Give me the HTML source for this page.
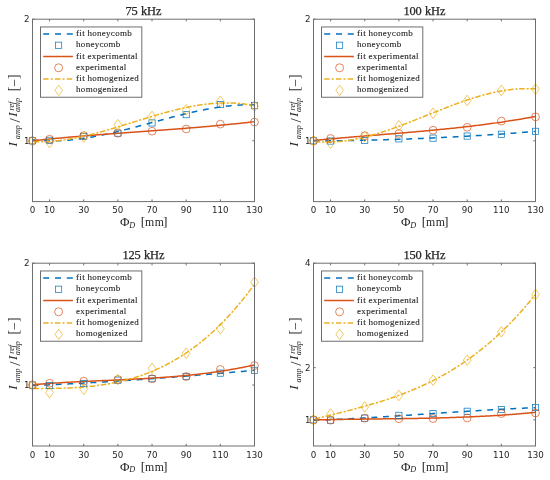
<!DOCTYPE html>
<html><head><meta charset="utf-8"><style>
html,body{margin:0;padding:0;background:#fff;width:550px;height:480px;overflow:hidden}
svg{display:block}
.tk{font-family:"DejaVu Sans",sans-serif;font-size:8.7px;fill:#262626}
.sf{font-family:"Liberation Serif",serif;fill:#262626;stroke:#262626;stroke-width:0.25px}
.sl{font-family:"Liberation Serif",serif;fill:#262626}
.lg{font-family:"Liberation Serif",serif;fill:#262626;font-size:9px;letter-spacing:0.28px;stroke:#262626;stroke-width:0.12px}
</style></head><body>
<svg width="550" height="480" viewBox="0 0 550 480">
<defs><clipPath id="c75"><rect x="32.5" y="19.2" width="222.0" height="182.4"/></clipPath></defs>
<polyline clip-path="url(#c75)" points="32.50,139.91 34.21,140.09 35.92,140.25 37.62,140.39 39.33,140.52 41.04,140.62 42.75,140.71 44.45,140.78 46.16,140.84 47.87,140.88 49.58,140.90 51.28,140.91 52.99,140.90 54.70,140.87 56.41,140.83 58.12,140.78 59.82,140.71 61.53,140.62 63.24,140.52 64.95,140.41 66.65,140.29 68.36,140.15 70.07,139.99 71.78,139.83 73.48,139.65 75.19,139.46 76.90,139.26 78.61,139.04 80.32,138.82 82.02,138.58 83.73,138.33 85.44,138.07 87.15,137.81 88.85,137.53 90.56,137.24 92.27,136.94 93.98,136.63 95.68,136.32 97.39,135.99 99.10,135.66 100.81,135.31 102.52,134.96 104.22,134.61 105.93,134.24 107.64,133.87 109.35,133.49 111.05,133.10 112.76,132.71 114.47,132.31 116.18,131.91 117.88,131.50 119.59,131.08 121.30,130.66 123.01,130.24 124.72,129.81 126.42,129.37 128.13,128.94 129.84,128.50 131.55,128.05 133.25,127.60 134.96,127.15 136.67,126.70 138.38,126.24 140.08,125.79 141.79,125.33 143.50,124.87 145.21,124.41 146.92,123.94 148.62,123.48 150.33,123.02 152.04,122.55 153.75,122.09 155.45,121.62 157.16,121.16 158.87,120.70 160.58,120.24 162.28,119.78 163.99,119.32 165.70,118.87 167.41,118.41 169.12,117.96 170.82,117.52 172.53,117.07 174.24,116.63 175.95,116.19 177.65,115.76 179.36,115.33 181.07,114.90 182.78,114.48 184.48,114.07 186.19,113.66 187.90,113.25 189.61,112.85 191.32,112.46 193.02,112.07 194.73,111.69 196.44,111.32 198.15,110.96 199.85,110.60 201.56,110.25 203.27,109.90 204.98,109.57 206.68,109.24 208.39,108.93 210.10,108.62 211.81,108.32 213.52,108.03 215.22,107.75 216.93,107.48 218.64,107.22 220.35,106.97 222.05,106.73 223.76,106.51 225.47,106.29 227.18,106.09 228.88,105.90 230.59,105.72 232.30,105.55 234.01,105.40 235.72,105.26 237.42,105.13 239.13,105.02 240.84,104.92 242.55,104.84 244.25,104.76 245.96,104.71 247.67,104.67 249.38,104.64 251.08,104.63 252.79,104.64 254.50,104.66" fill="none" stroke="#0072BD" stroke-width="1.5" stroke-dasharray="5.9 5.7"/>
<polyline clip-path="url(#c75)" points="32.50,140.79 34.21,140.61 35.92,140.42 37.62,140.24 39.33,140.06 41.04,139.88 42.75,139.70 44.45,139.53 46.16,139.36 47.87,139.19 49.58,139.02 51.28,138.85 52.99,138.69 54.70,138.52 56.41,138.36 58.12,138.20 59.82,138.04 61.53,137.88 63.24,137.73 64.95,137.57 66.65,137.42 68.36,137.27 70.07,137.12 71.78,136.97 73.48,136.82 75.19,136.67 76.90,136.53 78.61,136.38 80.32,136.24 82.02,136.10 83.73,135.96 85.44,135.82 87.15,135.68 88.85,135.54 90.56,135.41 92.27,135.27 93.98,135.14 95.68,135.00 97.39,134.87 99.10,134.74 100.81,134.60 102.52,134.47 104.22,134.34 105.93,134.21 107.64,134.08 109.35,133.96 111.05,133.83 112.76,133.70 114.47,133.57 116.18,133.45 117.88,133.32 119.59,133.20 121.30,133.07 123.01,132.95 124.72,132.82 126.42,132.70 128.13,132.57 129.84,132.45 131.55,132.33 133.25,132.20 134.96,132.08 136.67,131.96 138.38,131.83 140.08,131.71 141.79,131.59 143.50,131.46 145.21,131.34 146.92,131.22 148.62,131.09 150.33,130.97 152.04,130.84 153.75,130.72 155.45,130.59 157.16,130.47 158.87,130.34 160.58,130.22 162.28,130.09 163.99,129.96 165.70,129.84 167.41,129.71 169.12,129.58 170.82,129.45 172.53,129.32 174.24,129.19 175.95,129.06 177.65,128.93 179.36,128.79 181.07,128.66 182.78,128.53 184.48,128.39 186.19,128.25 187.90,128.12 189.61,127.98 191.32,127.84 193.02,127.70 194.73,127.56 196.44,127.42 198.15,127.27 199.85,127.13 201.56,126.98 203.27,126.83 204.98,126.69 206.68,126.54 208.39,126.38 210.10,126.23 211.81,126.08 213.52,125.92 215.22,125.77 216.93,125.61 218.64,125.45 220.35,125.29 222.05,125.12 223.76,124.96 225.47,124.79 227.18,124.62 228.88,124.45 230.59,124.28 232.30,124.11 234.01,123.93 235.72,123.75 237.42,123.57 239.13,123.39 240.84,123.21 242.55,123.02 244.25,122.84 245.96,122.65 247.67,122.46 249.38,122.26 251.08,122.07 252.79,121.87 254.50,121.67" fill="none" stroke="#D95319" stroke-width="1.5"/>
<polyline clip-path="url(#c75)" points="32.50,141.67 34.21,141.74 35.92,141.78 37.62,141.80 39.33,141.81 41.04,141.79 42.75,141.76 44.45,141.71 46.16,141.64 47.87,141.55 49.58,141.44 51.28,141.32 52.99,141.18 54.70,141.02 56.41,140.85 58.12,140.66 59.82,140.46 61.53,140.24 63.24,140.01 64.95,139.76 66.65,139.50 68.36,139.22 70.07,138.94 71.78,138.63 73.48,138.32 75.19,138.00 76.90,137.66 78.61,137.31 80.32,136.95 82.02,136.58 83.73,136.19 85.44,135.80 87.15,135.40 88.85,134.99 90.56,134.57 92.27,134.14 93.98,133.71 95.68,133.26 97.39,132.81 99.10,132.35 100.81,131.88 102.52,131.41 104.22,130.93 105.93,130.44 107.64,129.95 109.35,129.46 111.05,128.96 112.76,128.45 114.47,127.94 116.18,127.43 117.88,126.91 119.59,126.39 121.30,125.87 123.01,125.34 124.72,124.82 126.42,124.29 128.13,123.76 129.84,123.23 131.55,122.70 133.25,122.17 134.96,121.64 136.67,121.11 138.38,120.58 140.08,120.05 141.79,119.52 143.50,118.99 145.21,118.47 146.92,117.95 148.62,117.43 150.33,116.92 152.04,116.41 153.75,115.90 155.45,115.40 157.16,114.90 158.87,114.41 160.58,113.92 162.28,113.44 163.99,112.97 165.70,112.50 167.41,112.04 169.12,111.58 170.82,111.13 172.53,110.69 174.24,110.26 175.95,109.84 177.65,109.43 179.36,109.02 181.07,108.63 182.78,108.24 184.48,107.87 186.19,107.50 187.90,107.15 189.61,106.81 191.32,106.48 193.02,106.16 194.73,105.86 196.44,105.56 198.15,105.29 199.85,105.02 201.56,104.77 203.27,104.53 204.98,104.31 206.68,104.10 208.39,103.91 210.10,103.73 211.81,103.57 213.52,103.42 215.22,103.29 216.93,103.18 218.64,103.09 220.35,103.01 222.05,102.95 223.76,102.91 225.47,102.89 227.18,102.89 228.88,102.91 230.59,102.95 232.30,103.00 234.01,103.08 235.72,103.18 237.42,103.30 239.13,103.44 240.84,103.61 242.55,103.79 244.25,104.00 245.96,104.24 247.67,104.49 249.38,104.77 251.08,105.07 252.79,105.40 254.50,105.75" fill="none" stroke="#EDB120" stroke-width="1.5" stroke-dasharray="5.6 1.8 2.2 1.6" stroke-dashoffset="-1.2"/>
<rect x="29.40" y="137.70" width="6.2" height="6.2" fill="none" stroke="#0072BD" stroke-width="0.7"/>
<rect x="46.48" y="137.21" width="6.2" height="6.2" fill="none" stroke="#0072BD" stroke-width="0.7"/>
<rect x="80.63" y="133.32" width="6.2" height="6.2" fill="none" stroke="#0072BD" stroke-width="0.7"/>
<rect x="114.78" y="130.04" width="6.2" height="6.2" fill="none" stroke="#0072BD" stroke-width="0.7"/>
<rect x="148.94" y="119.82" width="6.2" height="6.2" fill="none" stroke="#0072BD" stroke-width="0.7"/>
<rect x="183.09" y="111.56" width="6.2" height="6.2" fill="none" stroke="#0072BD" stroke-width="0.7"/>
<rect x="217.25" y="101.46" width="6.2" height="6.2" fill="none" stroke="#0072BD" stroke-width="0.7"/>
<rect x="251.40" y="102.56" width="6.2" height="6.2" fill="none" stroke="#0072BD" stroke-width="0.7"/>
<circle cx="32.50" cy="140.80" r="3.9" fill="none" stroke="#D95319" stroke-width="0.7"/>
<circle cx="49.58" cy="139.22" r="3.9" fill="none" stroke="#D95319" stroke-width="0.7"/>
<circle cx="83.73" cy="135.57" r="3.9" fill="none" stroke="#D95319" stroke-width="0.7"/>
<circle cx="117.88" cy="133.14" r="3.9" fill="none" stroke="#D95319" stroke-width="0.7"/>
<circle cx="152.04" cy="131.19" r="3.9" fill="none" stroke="#D95319" stroke-width="0.7"/>
<circle cx="186.19" cy="129.00" r="3.9" fill="none" stroke="#D95319" stroke-width="0.7"/>
<circle cx="220.35" cy="124.14" r="3.9" fill="none" stroke="#D95319" stroke-width="0.7"/>
<circle cx="254.50" cy="122.07" r="3.9" fill="none" stroke="#D95319" stroke-width="0.7"/>
<path d="M32.50 135.50L36.40 140.80L32.50 146.10L28.60 140.80Z" fill="none" stroke="#EDB120" stroke-width="0.7"/>
<path d="M49.58 137.32L53.48 142.62L49.58 147.92L45.68 142.62Z" fill="none" stroke="#EDB120" stroke-width="0.7"/>
<path d="M83.73 131.73L87.63 137.03L83.73 142.33L79.83 137.03Z" fill="none" stroke="#EDB120" stroke-width="0.7"/>
<path d="M117.88 119.45L121.78 124.75L117.88 130.05L113.98 124.75Z" fill="none" stroke="#EDB120" stroke-width="0.7"/>
<path d="M152.04 111.18L155.94 116.48L152.04 121.78L148.14 116.48Z" fill="none" stroke="#EDB120" stroke-width="0.7"/>
<path d="M186.19 104.49L190.09 109.79L186.19 115.09L182.29 109.79Z" fill="none" stroke="#EDB120" stroke-width="0.7"/>
<path d="M220.35 95.98L224.25 101.28L220.35 106.58L216.45 101.28Z" fill="none" stroke="#EDB120" stroke-width="0.7"/>
<path d="M254.50 100.84L258.40 106.14L254.50 111.44L250.60 106.14Z" fill="none" stroke="#EDB120" stroke-width="0.7"/>
<rect x="32.5" y="19.2" width="222.00" height="182.40" fill="none" stroke="#6e6e6e" stroke-width="1"/>
<line x1="32.50" y1="201.6" x2="32.50" y2="199.4" stroke="#6e6e6e" stroke-width="1"/>
<line x1="32.50" y1="19.2" x2="32.50" y2="21.4" stroke="#6e6e6e" stroke-width="1"/>
<text class="tk" x="32.50" y="213.00" text-anchor="middle">0</text>
<line x1="49.58" y1="201.6" x2="49.58" y2="199.4" stroke="#6e6e6e" stroke-width="1"/>
<line x1="49.58" y1="19.2" x2="49.58" y2="21.4" stroke="#6e6e6e" stroke-width="1"/>
<text class="tk" x="49.58" y="213.00" text-anchor="middle">10</text>
<line x1="83.73" y1="201.6" x2="83.73" y2="199.4" stroke="#6e6e6e" stroke-width="1"/>
<line x1="83.73" y1="19.2" x2="83.73" y2="21.4" stroke="#6e6e6e" stroke-width="1"/>
<text class="tk" x="83.73" y="213.00" text-anchor="middle">30</text>
<line x1="117.88" y1="201.6" x2="117.88" y2="199.4" stroke="#6e6e6e" stroke-width="1"/>
<line x1="117.88" y1="19.2" x2="117.88" y2="21.4" stroke="#6e6e6e" stroke-width="1"/>
<text class="tk" x="117.88" y="213.00" text-anchor="middle">50</text>
<line x1="152.04" y1="201.6" x2="152.04" y2="199.4" stroke="#6e6e6e" stroke-width="1"/>
<line x1="152.04" y1="19.2" x2="152.04" y2="21.4" stroke="#6e6e6e" stroke-width="1"/>
<text class="tk" x="152.04" y="213.00" text-anchor="middle">70</text>
<line x1="186.19" y1="201.6" x2="186.19" y2="199.4" stroke="#6e6e6e" stroke-width="1"/>
<line x1="186.19" y1="19.2" x2="186.19" y2="21.4" stroke="#6e6e6e" stroke-width="1"/>
<text class="tk" x="186.19" y="213.00" text-anchor="middle">90</text>
<line x1="220.35" y1="201.6" x2="220.35" y2="199.4" stroke="#6e6e6e" stroke-width="1"/>
<line x1="220.35" y1="19.2" x2="220.35" y2="21.4" stroke="#6e6e6e" stroke-width="1"/>
<text class="tk" x="220.35" y="213.00" text-anchor="middle">110</text>
<line x1="254.50" y1="201.6" x2="254.50" y2="199.4" stroke="#6e6e6e" stroke-width="1"/>
<line x1="254.50" y1="19.2" x2="254.50" y2="21.4" stroke="#6e6e6e" stroke-width="1"/>
<text class="tk" x="254.50" y="213.00" text-anchor="middle">130</text>
<line x1="32.5" y1="140.80" x2="34.7" y2="140.80" stroke="#6e6e6e" stroke-width="1"/>
<line x1="254.5" y1="140.80" x2="252.3" y2="140.80" stroke="#6e6e6e" stroke-width="1"/>
<text class="tk" x="29.50" y="144.00" text-anchor="end">1</text>
<line x1="32.5" y1="19.20" x2="34.7" y2="19.20" stroke="#6e6e6e" stroke-width="1"/>
<line x1="254.5" y1="19.20" x2="252.3" y2="19.20" stroke="#6e6e6e" stroke-width="1"/>
<text class="tk" x="29.50" y="22.40" text-anchor="end">2</text>
<text class="sf" x="143.50" y="14.60" text-anchor="middle" font-size="12.4"><tspan letter-spacing="-0.2">75</tspan><tspan dx="3.5">kHz</tspan></text>
<text class="sl" x="120.10" y="226.10" font-size="13">&#934;</text>
<text class="sl" x="129.30" y="227.80" font-size="8.2" font-style="italic">D</text>
<text class="sl" x="140.70" y="226.10" font-size="13.5">[</text>
<text class="sl" x="145.00" y="226.10" font-size="11.8" letter-spacing="0.5">mm</text>
<text class="sl" x="163.10" y="226.10" font-size="13.5">]</text>
<g transform="translate(17.40,146.00) rotate(-90)">
<text class="sl" x="-0.5" y="0" font-size="13" font-style="italic">I</text>
<text class="sl" x="6.8" y="2.1" font-size="8.2" font-style="italic">amp</text>
<text class="sl" x="23.5" y="2.6" font-size="15.5">/</text>
<text class="sl" x="29.3" y="0" font-size="13" font-style="italic">I</text>
<text class="sl" x="35.5" y="-3.0" font-size="8.2" font-style="italic">ref</text>
<text class="sl" x="34.0" y="2.1" font-size="8.2" font-style="italic">amp</text>
<text class="sl" x="54.8" y="0.6" font-size="14">[</text>
<text class="sl" x="59.3" y="1.2" font-size="14">&#8722;</text>
<text class="sl" x="67.1" y="0.6" font-size="14">]</text>
</g>
<rect x="40.50" y="26.95" width="101.3" height="70.3" fill="#fff" stroke="#6e6e6e" stroke-width="1"/>
<text class="lg" x="76.10" y="35.95">fit honeycomb</text>
<text class="lg" x="76.10" y="47.23">honeycomb</text>
<text class="lg" x="76.10" y="58.51">fit experimental</text>
<text class="lg" x="76.10" y="69.79">experimental</text>
<text class="lg" x="76.10" y="81.07">fit homogenized</text>
<text class="lg" x="76.10" y="92.35">homogenized</text>
<line x1="43.20" y1="33.95" x2="72.90" y2="33.95" stroke="#0072BD" stroke-width="1.5" stroke-dasharray="6 5.8"/>
<rect x="55.50" y="42.13" width="6.2" height="6.2" fill="none" stroke="#0072BD" stroke-width="0.7"/>
<line x1="43.20" y1="56.51" x2="72.90" y2="56.51" stroke="#D95319" stroke-width="1.5"/>
<circle cx="58.60" cy="67.79" r="4.0" fill="none" stroke="#D95319" stroke-width="0.7"/>
<line x1="43.20" y1="79.07" x2="72.90" y2="79.07" stroke="#EDB120" stroke-width="1.5" stroke-dasharray="5.4 2.1 2.0 2.3"/>
<path d="M58.70 85.15L62.50 90.35L58.70 95.55L54.90 90.35Z" fill="none" stroke="#EDB120" stroke-width="0.7"/>
<defs><clipPath id="c100"><rect x="313.5" y="19.2" width="222.0" height="182.4"/></clipPath></defs>
<polyline clip-path="url(#c100)" points="313.50,140.99 315.21,140.98 316.92,140.96 318.62,140.95 320.33,140.93 322.04,140.92 323.75,140.90 325.45,140.88 327.16,140.86 328.87,140.84 330.58,140.82 332.28,140.80 333.99,140.78 335.70,140.75 337.41,140.73 339.12,140.70 340.82,140.68 342.53,140.65 344.24,140.62 345.95,140.59 347.65,140.56 349.36,140.53 351.07,140.50 352.78,140.47 354.48,140.44 356.19,140.40 357.90,140.37 359.61,140.33 361.32,140.30 363.02,140.26 364.73,140.22 366.44,140.18 368.15,140.14 369.85,140.10 371.56,140.06 373.27,140.02 374.98,139.98 376.68,139.93 378.39,139.89 380.10,139.84 381.81,139.79 383.52,139.74 385.22,139.70 386.93,139.65 388.64,139.59 390.35,139.54 392.05,139.49 393.76,139.44 395.47,139.38 397.18,139.33 398.88,139.27 400.59,139.21 402.30,139.15 404.01,139.09 405.72,139.03 407.42,138.97 409.13,138.91 410.84,138.85 412.55,138.78 414.25,138.72 415.96,138.65 417.67,138.58 419.38,138.52 421.08,138.45 422.79,138.38 424.50,138.31 426.21,138.23 427.92,138.16 429.62,138.09 431.33,138.01 433.04,137.94 434.75,137.86 436.45,137.78 438.16,137.70 439.87,137.62 441.58,137.54 443.28,137.46 444.99,137.37 446.70,137.29 448.41,137.20 450.12,137.12 451.82,137.03 453.53,136.94 455.24,136.85 456.95,136.76 458.65,136.67 460.36,136.58 462.07,136.48 463.78,136.39 465.48,136.29 467.19,136.20 468.90,136.10 470.61,136.00 472.32,135.90 474.02,135.80 475.73,135.69 477.44,135.59 479.15,135.49 480.85,135.38 482.56,135.27 484.27,135.17 485.98,135.06 487.68,134.95 489.39,134.84 491.10,134.72 492.81,134.61 494.52,134.50 496.22,134.38 497.93,134.26 499.64,134.15 501.35,134.03 503.05,133.91 504.76,133.78 506.47,133.66 508.18,133.54 509.88,133.41 511.59,133.29 513.30,133.16 515.01,133.03 516.72,132.90 518.42,132.77 520.13,132.64 521.84,132.51 523.55,132.37 525.25,132.24 526.96,132.10 528.67,131.97 530.38,131.83 532.08,131.69 533.79,131.55 535.50,131.40" fill="none" stroke="#0072BD" stroke-width="1.5" stroke-dasharray="5.9 5.7"/>
<polyline clip-path="url(#c100)" points="313.50,140.44 315.21,140.28 316.92,140.12 318.62,139.96 320.33,139.80 322.04,139.64 323.75,139.49 325.45,139.33 327.16,139.18 328.87,139.02 330.58,138.87 332.28,138.72 333.99,138.57 335.70,138.42 337.41,138.28 339.12,138.13 340.82,137.98 342.53,137.84 344.24,137.69 345.95,137.55 347.65,137.41 349.36,137.26 351.07,137.12 352.78,136.98 354.48,136.84 356.19,136.70 357.90,136.56 359.61,136.42 361.32,136.28 363.02,136.14 364.73,136.00 366.44,135.87 368.15,135.73 369.85,135.59 371.56,135.45 373.27,135.31 374.98,135.17 376.68,135.04 378.39,134.90 380.10,134.76 381.81,134.62 383.52,134.48 385.22,134.34 386.93,134.21 388.64,134.07 390.35,133.93 392.05,133.79 393.76,133.65 395.47,133.51 397.18,133.36 398.88,133.22 400.59,133.08 402.30,132.94 404.01,132.79 405.72,132.65 407.42,132.50 409.13,132.36 410.84,132.21 412.55,132.06 414.25,131.91 415.96,131.76 417.67,131.61 419.38,131.46 421.08,131.31 422.79,131.15 424.50,131.00 426.21,130.84 427.92,130.68 429.62,130.52 431.33,130.36 433.04,130.20 434.75,130.04 436.45,129.87 438.16,129.71 439.87,129.54 441.58,129.37 443.28,129.20 444.99,129.03 446.70,128.85 448.41,128.68 450.12,128.50 451.82,128.32 453.53,128.14 455.24,127.96 456.95,127.77 458.65,127.58 460.36,127.39 462.07,127.20 463.78,127.01 465.48,126.81 467.19,126.62 468.90,126.42 470.61,126.21 472.32,126.01 474.02,125.80 475.73,125.59 477.44,125.38 479.15,125.17 480.85,124.95 482.56,124.73 484.27,124.51 485.98,124.29 487.68,124.06 489.39,123.83 491.10,123.60 492.81,123.36 494.52,123.12 496.22,122.88 497.93,122.64 499.64,122.39 501.35,122.14 503.05,121.89 504.76,121.63 506.47,121.38 508.18,121.11 509.88,120.85 511.59,120.58 513.30,120.31 515.01,120.03 516.72,119.75 518.42,119.47 520.13,119.19 521.84,118.90 523.55,118.61 525.25,118.31 526.96,118.01 528.67,117.71 530.38,117.40 532.08,117.09 533.79,116.77 535.50,116.46" fill="none" stroke="#D95319" stroke-width="1.5"/>
<polyline clip-path="url(#c100)" points="313.50,141.42 315.21,141.60 316.92,141.76 318.62,141.88 320.33,141.99 322.04,142.07 323.75,142.12 325.45,142.15 327.16,142.16 328.87,142.14 330.58,142.10 332.28,142.04 333.99,141.95 335.70,141.85 337.41,141.72 339.12,141.57 340.82,141.40 342.53,141.21 344.24,141.00 345.95,140.77 347.65,140.53 349.36,140.26 351.07,139.97 352.78,139.67 354.48,139.35 356.19,139.02 357.90,138.66 359.61,138.29 361.32,137.91 363.02,137.51 364.73,137.09 366.44,136.66 368.15,136.22 369.85,135.76 371.56,135.29 373.27,134.80 374.98,134.31 376.68,133.80 378.39,133.28 380.10,132.75 381.81,132.20 383.52,131.65 385.22,131.09 386.93,130.51 388.64,129.93 390.35,129.34 392.05,128.74 393.76,128.13 395.47,127.51 397.18,126.89 398.88,126.26 400.59,125.62 402.30,124.98 404.01,124.33 405.72,123.68 407.42,123.02 409.13,122.35 410.84,121.69 412.55,121.02 414.25,120.34 415.96,119.66 417.67,118.98 419.38,118.30 421.08,117.62 422.79,116.93 424.50,116.25 426.21,115.56 427.92,114.87 429.62,114.19 431.33,113.50 433.04,112.82 434.75,112.14 436.45,111.45 438.16,110.78 439.87,110.10 441.58,109.43 443.28,108.76 444.99,108.09 446.70,107.43 448.41,106.78 450.12,106.12 451.82,105.48 453.53,104.84 455.24,104.21 456.95,103.58 458.65,102.96 460.36,102.35 462.07,101.74 463.78,101.15 465.48,100.56 467.19,99.98 468.90,99.41 470.61,98.86 472.32,98.31 474.02,97.77 475.73,97.25 477.44,96.73 479.15,96.23 480.85,95.74 482.56,95.26 484.27,94.80 485.98,94.35 487.68,93.91 489.39,93.49 491.10,93.08 492.81,92.69 494.52,92.31 496.22,91.95 497.93,91.60 499.64,91.28 501.35,90.97 503.05,90.67 504.76,90.40 506.47,90.14 508.18,89.90 509.88,89.69 511.59,89.49 513.30,89.31 515.01,89.15 516.72,89.01 518.42,88.89 520.13,88.80 521.84,88.73 523.55,88.68 525.25,88.65 526.96,88.64 528.67,88.66 530.38,88.71 532.08,88.77 533.79,88.87 535.50,88.98" fill="none" stroke="#EDB120" stroke-width="1.5" stroke-dasharray="5.6 1.8 2.2 1.6" stroke-dashoffset="-1.2"/>
<rect x="310.40" y="137.70" width="6.2" height="6.2" fill="none" stroke="#0072BD" stroke-width="0.7"/>
<rect x="327.48" y="137.94" width="6.2" height="6.2" fill="none" stroke="#0072BD" stroke-width="0.7"/>
<rect x="361.63" y="137.34" width="6.2" height="6.2" fill="none" stroke="#0072BD" stroke-width="0.7"/>
<rect x="395.78" y="135.75" width="6.2" height="6.2" fill="none" stroke="#0072BD" stroke-width="0.7"/>
<rect x="429.94" y="135.02" width="6.2" height="6.2" fill="none" stroke="#0072BD" stroke-width="0.7"/>
<rect x="464.09" y="132.96" width="6.2" height="6.2" fill="none" stroke="#0072BD" stroke-width="0.7"/>
<rect x="498.25" y="131.13" width="6.2" height="6.2" fill="none" stroke="#0072BD" stroke-width="0.7"/>
<rect x="532.40" y="128.22" width="6.2" height="6.2" fill="none" stroke="#0072BD" stroke-width="0.7"/>
<circle cx="313.50" cy="140.80" r="3.9" fill="none" stroke="#D95319" stroke-width="0.7"/>
<circle cx="330.58" cy="138.49" r="3.9" fill="none" stroke="#D95319" stroke-width="0.7"/>
<circle cx="364.73" cy="135.69" r="3.9" fill="none" stroke="#D95319" stroke-width="0.7"/>
<circle cx="398.88" cy="133.50" r="3.9" fill="none" stroke="#D95319" stroke-width="0.7"/>
<circle cx="433.04" cy="130.22" r="3.9" fill="none" stroke="#D95319" stroke-width="0.7"/>
<circle cx="467.19" cy="127.30" r="3.9" fill="none" stroke="#D95319" stroke-width="0.7"/>
<circle cx="501.35" cy="121.10" r="3.9" fill="none" stroke="#D95319" stroke-width="0.7"/>
<circle cx="535.50" cy="116.84" r="3.9" fill="none" stroke="#D95319" stroke-width="0.7"/>
<path d="M313.50 135.50L317.40 140.80L313.50 146.10L309.60 140.80Z" fill="none" stroke="#EDB120" stroke-width="0.7"/>
<path d="M330.58 137.93L334.48 143.23L330.58 148.53L326.68 143.23Z" fill="none" stroke="#EDB120" stroke-width="0.7"/>
<path d="M364.73 131.37L368.63 136.67L364.73 141.97L360.83 136.67Z" fill="none" stroke="#EDB120" stroke-width="0.7"/>
<path d="M398.88 120.42L402.78 125.72L398.88 131.02L394.98 125.72Z" fill="none" stroke="#EDB120" stroke-width="0.7"/>
<path d="M433.04 107.90L436.94 113.20L433.04 118.50L429.14 113.20Z" fill="none" stroke="#EDB120" stroke-width="0.7"/>
<path d="M467.19 95.13L471.09 100.43L467.19 105.73L463.29 100.43Z" fill="none" stroke="#EDB120" stroke-width="0.7"/>
<path d="M501.35 85.16L505.25 90.46L501.35 95.76L497.45 90.46Z" fill="none" stroke="#EDB120" stroke-width="0.7"/>
<path d="M535.50 83.82L539.40 89.12L535.50 94.42L531.60 89.12Z" fill="none" stroke="#EDB120" stroke-width="0.7"/>
<rect x="313.5" y="19.2" width="222.00" height="182.40" fill="none" stroke="#6e6e6e" stroke-width="1"/>
<line x1="313.50" y1="201.6" x2="313.50" y2="199.4" stroke="#6e6e6e" stroke-width="1"/>
<line x1="313.50" y1="19.2" x2="313.50" y2="21.4" stroke="#6e6e6e" stroke-width="1"/>
<text class="tk" x="313.50" y="213.00" text-anchor="middle">0</text>
<line x1="330.58" y1="201.6" x2="330.58" y2="199.4" stroke="#6e6e6e" stroke-width="1"/>
<line x1="330.58" y1="19.2" x2="330.58" y2="21.4" stroke="#6e6e6e" stroke-width="1"/>
<text class="tk" x="330.58" y="213.00" text-anchor="middle">10</text>
<line x1="364.73" y1="201.6" x2="364.73" y2="199.4" stroke="#6e6e6e" stroke-width="1"/>
<line x1="364.73" y1="19.2" x2="364.73" y2="21.4" stroke="#6e6e6e" stroke-width="1"/>
<text class="tk" x="364.73" y="213.00" text-anchor="middle">30</text>
<line x1="398.88" y1="201.6" x2="398.88" y2="199.4" stroke="#6e6e6e" stroke-width="1"/>
<line x1="398.88" y1="19.2" x2="398.88" y2="21.4" stroke="#6e6e6e" stroke-width="1"/>
<text class="tk" x="398.88" y="213.00" text-anchor="middle">50</text>
<line x1="433.04" y1="201.6" x2="433.04" y2="199.4" stroke="#6e6e6e" stroke-width="1"/>
<line x1="433.04" y1="19.2" x2="433.04" y2="21.4" stroke="#6e6e6e" stroke-width="1"/>
<text class="tk" x="433.04" y="213.00" text-anchor="middle">70</text>
<line x1="467.19" y1="201.6" x2="467.19" y2="199.4" stroke="#6e6e6e" stroke-width="1"/>
<line x1="467.19" y1="19.2" x2="467.19" y2="21.4" stroke="#6e6e6e" stroke-width="1"/>
<text class="tk" x="467.19" y="213.00" text-anchor="middle">90</text>
<line x1="501.35" y1="201.6" x2="501.35" y2="199.4" stroke="#6e6e6e" stroke-width="1"/>
<line x1="501.35" y1="19.2" x2="501.35" y2="21.4" stroke="#6e6e6e" stroke-width="1"/>
<text class="tk" x="501.35" y="213.00" text-anchor="middle">110</text>
<line x1="535.50" y1="201.6" x2="535.50" y2="199.4" stroke="#6e6e6e" stroke-width="1"/>
<line x1="535.50" y1="19.2" x2="535.50" y2="21.4" stroke="#6e6e6e" stroke-width="1"/>
<text class="tk" x="535.50" y="213.00" text-anchor="middle">130</text>
<line x1="313.5" y1="140.80" x2="315.7" y2="140.80" stroke="#6e6e6e" stroke-width="1"/>
<line x1="535.5" y1="140.80" x2="533.3" y2="140.80" stroke="#6e6e6e" stroke-width="1"/>
<text class="tk" x="310.50" y="144.00" text-anchor="end">1</text>
<line x1="313.5" y1="19.20" x2="315.7" y2="19.20" stroke="#6e6e6e" stroke-width="1"/>
<line x1="535.5" y1="19.20" x2="533.3" y2="19.20" stroke="#6e6e6e" stroke-width="1"/>
<text class="tk" x="310.50" y="22.40" text-anchor="end">2</text>
<text class="sf" x="424.50" y="14.60" text-anchor="middle" font-size="12.4"><tspan letter-spacing="-0.2">100</tspan><tspan dx="3.5">kHz</tspan></text>
<text class="sl" x="401.10" y="226.10" font-size="13">&#934;</text>
<text class="sl" x="410.30" y="227.80" font-size="8.2" font-style="italic">D</text>
<text class="sl" x="421.70" y="226.10" font-size="13.5">[</text>
<text class="sl" x="426.00" y="226.10" font-size="11.8" letter-spacing="0.5">mm</text>
<text class="sl" x="444.10" y="226.10" font-size="13.5">]</text>
<g transform="translate(298.40,146.00) rotate(-90)">
<text class="sl" x="-0.5" y="0" font-size="13" font-style="italic">I</text>
<text class="sl" x="6.8" y="2.1" font-size="8.2" font-style="italic">amp</text>
<text class="sl" x="23.5" y="2.6" font-size="15.5">/</text>
<text class="sl" x="29.3" y="0" font-size="13" font-style="italic">I</text>
<text class="sl" x="35.5" y="-3.0" font-size="8.2" font-style="italic">ref</text>
<text class="sl" x="34.0" y="2.1" font-size="8.2" font-style="italic">amp</text>
<text class="sl" x="54.8" y="0.6" font-size="14">[</text>
<text class="sl" x="59.3" y="1.2" font-size="14">&#8722;</text>
<text class="sl" x="67.1" y="0.6" font-size="14">]</text>
</g>
<rect x="321.50" y="26.95" width="101.3" height="70.3" fill="#fff" stroke="#6e6e6e" stroke-width="1"/>
<text class="lg" x="357.10" y="35.95">fit honeycomb</text>
<text class="lg" x="357.10" y="47.23">honeycomb</text>
<text class="lg" x="357.10" y="58.51">fit experimental</text>
<text class="lg" x="357.10" y="69.79">experimental</text>
<text class="lg" x="357.10" y="81.07">fit homogenized</text>
<text class="lg" x="357.10" y="92.35">homogenized</text>
<line x1="324.20" y1="33.95" x2="353.90" y2="33.95" stroke="#0072BD" stroke-width="1.5" stroke-dasharray="6 5.8"/>
<rect x="336.50" y="42.13" width="6.2" height="6.2" fill="none" stroke="#0072BD" stroke-width="0.7"/>
<line x1="324.20" y1="56.51" x2="353.90" y2="56.51" stroke="#D95319" stroke-width="1.5"/>
<circle cx="339.60" cy="67.79" r="4.0" fill="none" stroke="#D95319" stroke-width="0.7"/>
<line x1="324.20" y1="79.07" x2="353.90" y2="79.07" stroke="#EDB120" stroke-width="1.5" stroke-dasharray="5.4 2.1 2.0 2.3"/>
<path d="M339.70 85.15L343.50 90.35L339.70 95.55L335.90 90.35Z" fill="none" stroke="#EDB120" stroke-width="0.7"/>
<defs><clipPath id="c125"><rect x="32.5" y="263.2" width="222.0" height="182.8"/></clipPath></defs>
<polyline clip-path="url(#c125)" points="32.50,385.53 34.21,385.47 35.92,385.40 37.62,385.33 39.33,385.26 41.04,385.19 42.75,385.12 44.45,385.05 46.16,384.98 47.87,384.90 49.58,384.83 51.28,384.75 52.99,384.67 54.70,384.59 56.41,384.51 58.12,384.43 59.82,384.35 61.53,384.27 63.24,384.19 64.95,384.10 66.65,384.02 68.36,383.93 70.07,383.84 71.78,383.75 73.48,383.66 75.19,383.57 76.90,383.48 78.61,383.39 80.32,383.30 82.02,383.21 83.73,383.11 85.44,383.02 87.15,382.92 88.85,382.82 90.56,382.72 92.27,382.62 93.98,382.52 95.68,382.42 97.39,382.32 99.10,382.22 100.81,382.12 102.52,382.01 104.22,381.91 105.93,381.80 107.64,381.70 109.35,381.59 111.05,381.48 112.76,381.37 114.47,381.26 116.18,381.15 117.88,381.04 119.59,380.93 121.30,380.82 123.01,380.71 124.72,380.59 126.42,380.48 128.13,380.36 129.84,380.25 131.55,380.13 133.25,380.01 134.96,379.89 136.67,379.78 138.38,379.66 140.08,379.54 141.79,379.42 143.50,379.29 145.21,379.17 146.92,379.05 148.62,378.93 150.33,378.80 152.04,378.68 153.75,378.55 155.45,378.43 157.16,378.30 158.87,378.17 160.58,378.05 162.28,377.92 163.99,377.79 165.70,377.66 167.41,377.53 169.12,377.40 170.82,377.27 172.53,377.14 174.24,377.01 175.95,376.87 177.65,376.74 179.36,376.61 181.07,376.47 182.78,376.34 184.48,376.21 186.19,376.07 187.90,375.93 189.61,375.80 191.32,375.66 193.02,375.52 194.73,375.39 196.44,375.25 198.15,375.11 199.85,374.97 201.56,374.83 203.27,374.69 204.98,374.55 206.68,374.41 208.39,374.27 210.10,374.13 211.81,373.99 213.52,373.85 215.22,373.70 216.93,373.56 218.64,373.42 220.35,373.28 222.05,373.13 223.76,372.99 225.47,372.84 227.18,372.70 228.88,372.55 230.59,372.41 232.30,372.26 234.01,372.12 235.72,371.97 237.42,371.82 239.13,371.68 240.84,371.53 242.55,371.38 244.25,371.24 245.96,371.09 247.67,370.94 249.38,370.79 251.08,370.65 252.79,370.50 254.50,370.35" fill="none" stroke="#0072BD" stroke-width="1.5" stroke-dasharray="5.9 5.7"/>
<polyline clip-path="url(#c125)" points="32.50,384.77 34.21,384.62 35.92,384.48 37.62,384.34 39.33,384.20 41.04,384.07 42.75,383.94 44.45,383.81 46.16,383.68 47.87,383.56 49.58,383.44 51.28,383.32 52.99,383.21 54.70,383.10 56.41,382.99 58.12,382.88 59.82,382.77 61.53,382.67 63.24,382.57 64.95,382.47 66.65,382.37 68.36,382.27 70.07,382.18 71.78,382.09 73.48,382.00 75.19,381.91 76.90,381.82 78.61,381.73 80.32,381.65 82.02,381.56 83.73,381.48 85.44,381.40 87.15,381.32 88.85,381.24 90.56,381.16 92.27,381.08 93.98,381.00 95.68,380.92 97.39,380.84 99.10,380.77 100.81,380.69 102.52,380.61 104.22,380.54 105.93,380.46 107.64,380.38 109.35,380.31 111.05,380.23 112.76,380.15 114.47,380.08 116.18,380.00 117.88,379.92 119.59,379.84 121.30,379.76 123.01,379.68 124.72,379.60 126.42,379.52 128.13,379.43 129.84,379.35 131.55,379.27 133.25,379.18 134.96,379.09 136.67,379.00 138.38,378.91 140.08,378.82 141.79,378.72 143.50,378.63 145.21,378.53 146.92,378.43 148.62,378.33 150.33,378.23 152.04,378.12 153.75,378.01 155.45,377.90 157.16,377.79 158.87,377.68 160.58,377.56 162.28,377.44 163.99,377.32 165.70,377.19 167.41,377.06 169.12,376.93 170.82,376.80 172.53,376.66 174.24,376.52 175.95,376.38 177.65,376.23 179.36,376.08 181.07,375.93 182.78,375.77 184.48,375.61 186.19,375.45 187.90,375.28 189.61,375.11 191.32,374.93 193.02,374.75 194.73,374.57 196.44,374.38 198.15,374.19 199.85,373.99 201.56,373.79 203.27,373.58 204.98,373.37 206.68,373.16 208.39,372.94 210.10,372.71 211.81,372.48 213.52,372.25 215.22,372.01 216.93,371.76 218.64,371.51 220.35,371.26 222.05,371.00 223.76,370.73 225.47,370.46 227.18,370.18 228.88,369.90 230.59,369.61 232.30,369.32 234.01,369.02 235.72,368.71 237.42,368.40 239.13,368.08 240.84,367.75 242.55,367.42 244.25,367.08 245.96,366.74 247.67,366.39 249.38,366.03 251.08,365.67 252.79,365.29 254.50,364.92" fill="none" stroke="#D95319" stroke-width="1.5"/>
<polyline clip-path="url(#c125)" points="32.50,388.56 34.21,388.56 35.92,388.56 37.62,388.56 39.33,388.55 41.04,388.54 42.75,388.54 44.45,388.52 46.16,388.51 47.87,388.49 49.58,388.47 51.28,388.45 52.99,388.42 54.70,388.39 56.41,388.35 58.12,388.31 59.82,388.27 61.53,388.22 63.24,388.16 64.95,388.10 66.65,388.04 68.36,387.96 70.07,387.88 71.78,387.80 73.48,387.71 75.19,387.61 76.90,387.50 78.61,387.38 80.32,387.26 82.02,387.13 83.73,386.99 85.44,386.84 87.15,386.68 88.85,386.52 90.56,386.34 92.27,386.15 93.98,385.96 95.68,385.75 97.39,385.53 99.10,385.31 100.81,385.07 102.52,384.82 104.22,384.55 105.93,384.28 107.64,383.99 109.35,383.69 111.05,383.38 112.76,383.05 114.47,382.72 116.18,382.36 117.88,382.00 119.59,381.62 121.30,381.22 123.01,380.82 124.72,380.39 126.42,379.95 128.13,379.50 129.84,379.03 131.55,378.54 133.25,378.04 134.96,377.52 136.67,376.98 138.38,376.43 140.08,375.86 141.79,375.27 143.50,374.67 145.21,374.04 146.92,373.40 148.62,372.74 150.33,372.06 152.04,371.36 153.75,370.65 155.45,369.91 157.16,369.15 158.87,368.37 160.58,367.57 162.28,366.75 163.99,365.91 165.70,365.05 167.41,364.17 169.12,363.26 170.82,362.34 172.53,361.39 174.24,360.41 175.95,359.42 177.65,358.40 179.36,357.36 181.07,356.29 182.78,355.20 184.48,354.09 186.19,352.95 187.90,351.79 189.61,350.60 191.32,349.39 193.02,348.15 194.73,346.88 196.44,345.59 198.15,344.27 199.85,342.93 201.56,341.56 203.27,340.16 204.98,338.73 206.68,337.28 208.39,335.80 210.10,334.29 211.81,332.75 213.52,331.18 215.22,329.59 216.93,327.96 218.64,326.31 220.35,324.62 222.05,322.91 223.76,321.16 225.47,319.39 227.18,317.58 228.88,315.74 230.59,313.87 232.30,311.97 234.01,310.04 235.72,308.07 237.42,306.08 239.13,304.04 240.84,301.98 242.55,299.88 244.25,297.75 245.96,295.59 247.67,293.39 249.38,291.16 251.08,288.89 252.79,286.59 254.50,284.25" fill="none" stroke="#EDB120" stroke-width="1.5" stroke-dasharray="5.6 1.8 2.2 1.6" stroke-dashoffset="-1.2"/>
<rect x="29.40" y="381.97" width="6.2" height="6.2" fill="none" stroke="#0072BD" stroke-width="0.7"/>
<rect x="46.48" y="382.33" width="6.2" height="6.2" fill="none" stroke="#0072BD" stroke-width="0.7"/>
<rect x="80.63" y="380.38" width="6.2" height="6.2" fill="none" stroke="#0072BD" stroke-width="0.7"/>
<rect x="114.78" y="377.09" width="6.2" height="6.2" fill="none" stroke="#0072BD" stroke-width="0.7"/>
<rect x="148.94" y="375.63" width="6.2" height="6.2" fill="none" stroke="#0072BD" stroke-width="0.7"/>
<rect x="183.09" y="373.44" width="6.2" height="6.2" fill="none" stroke="#0072BD" stroke-width="0.7"/>
<rect x="217.25" y="370.02" width="6.2" height="6.2" fill="none" stroke="#0072BD" stroke-width="0.7"/>
<rect x="251.40" y="367.22" width="6.2" height="6.2" fill="none" stroke="#0072BD" stroke-width="0.7"/>
<circle cx="32.50" cy="385.07" r="3.9" fill="none" stroke="#D95319" stroke-width="0.7"/>
<circle cx="49.58" cy="383.24" r="3.9" fill="none" stroke="#D95319" stroke-width="0.7"/>
<circle cx="83.73" cy="381.17" r="3.9" fill="none" stroke="#D95319" stroke-width="0.7"/>
<circle cx="117.88" cy="379.58" r="3.9" fill="none" stroke="#D95319" stroke-width="0.7"/>
<circle cx="152.04" cy="378.73" r="3.9" fill="none" stroke="#D95319" stroke-width="0.7"/>
<circle cx="186.19" cy="376.54" r="3.9" fill="none" stroke="#D95319" stroke-width="0.7"/>
<circle cx="220.35" cy="369.47" r="3.9" fill="none" stroke="#D95319" stroke-width="0.7"/>
<circle cx="254.50" cy="365.57" r="3.9" fill="none" stroke="#D95319" stroke-width="0.7"/>
<path d="M32.50 379.77L36.40 385.07L32.50 390.37L28.60 385.07Z" fill="none" stroke="#EDB120" stroke-width="0.7"/>
<path d="M49.58 387.32L53.48 392.62L49.58 397.92L45.68 392.62Z" fill="none" stroke="#EDB120" stroke-width="0.7"/>
<path d="M83.73 384.03L87.63 389.33L83.73 394.63L79.83 389.33Z" fill="none" stroke="#EDB120" stroke-width="0.7"/>
<path d="M117.88 374.28L121.78 379.58L117.88 384.88L113.98 379.58Z" fill="none" stroke="#EDB120" stroke-width="0.7"/>
<path d="M152.04 363.07L155.94 368.37L152.04 373.67L148.14 368.37Z" fill="none" stroke="#EDB120" stroke-width="0.7"/>
<path d="M186.19 347.96L190.09 353.26L186.19 358.56L182.29 353.26Z" fill="none" stroke="#EDB120" stroke-width="0.7"/>
<path d="M220.35 323.46L224.25 328.76L220.35 334.06L216.45 328.76Z" fill="none" stroke="#EDB120" stroke-width="0.7"/>
<path d="M254.50 276.91L258.40 282.21L254.50 287.51L250.60 282.21Z" fill="none" stroke="#EDB120" stroke-width="0.7"/>
<rect x="32.5" y="263.2" width="222.00" height="182.80" fill="none" stroke="#6e6e6e" stroke-width="1"/>
<line x1="32.50" y1="446.0" x2="32.50" y2="443.8" stroke="#6e6e6e" stroke-width="1"/>
<line x1="32.50" y1="263.2" x2="32.50" y2="265.4" stroke="#6e6e6e" stroke-width="1"/>
<text class="tk" x="32.50" y="458.00" text-anchor="middle">0</text>
<line x1="49.58" y1="446.0" x2="49.58" y2="443.8" stroke="#6e6e6e" stroke-width="1"/>
<line x1="49.58" y1="263.2" x2="49.58" y2="265.4" stroke="#6e6e6e" stroke-width="1"/>
<text class="tk" x="49.58" y="458.00" text-anchor="middle">10</text>
<line x1="83.73" y1="446.0" x2="83.73" y2="443.8" stroke="#6e6e6e" stroke-width="1"/>
<line x1="83.73" y1="263.2" x2="83.73" y2="265.4" stroke="#6e6e6e" stroke-width="1"/>
<text class="tk" x="83.73" y="458.00" text-anchor="middle">30</text>
<line x1="117.88" y1="446.0" x2="117.88" y2="443.8" stroke="#6e6e6e" stroke-width="1"/>
<line x1="117.88" y1="263.2" x2="117.88" y2="265.4" stroke="#6e6e6e" stroke-width="1"/>
<text class="tk" x="117.88" y="458.00" text-anchor="middle">50</text>
<line x1="152.04" y1="446.0" x2="152.04" y2="443.8" stroke="#6e6e6e" stroke-width="1"/>
<line x1="152.04" y1="263.2" x2="152.04" y2="265.4" stroke="#6e6e6e" stroke-width="1"/>
<text class="tk" x="152.04" y="458.00" text-anchor="middle">70</text>
<line x1="186.19" y1="446.0" x2="186.19" y2="443.8" stroke="#6e6e6e" stroke-width="1"/>
<line x1="186.19" y1="263.2" x2="186.19" y2="265.4" stroke="#6e6e6e" stroke-width="1"/>
<text class="tk" x="186.19" y="458.00" text-anchor="middle">90</text>
<line x1="220.35" y1="446.0" x2="220.35" y2="443.8" stroke="#6e6e6e" stroke-width="1"/>
<line x1="220.35" y1="263.2" x2="220.35" y2="265.4" stroke="#6e6e6e" stroke-width="1"/>
<text class="tk" x="220.35" y="458.00" text-anchor="middle">110</text>
<line x1="254.50" y1="446.0" x2="254.50" y2="443.8" stroke="#6e6e6e" stroke-width="1"/>
<line x1="254.50" y1="263.2" x2="254.50" y2="265.4" stroke="#6e6e6e" stroke-width="1"/>
<text class="tk" x="254.50" y="458.00" text-anchor="middle">130</text>
<line x1="32.5" y1="385.07" x2="34.7" y2="385.07" stroke="#6e6e6e" stroke-width="1"/>
<line x1="254.5" y1="385.07" x2="252.3" y2="385.07" stroke="#6e6e6e" stroke-width="1"/>
<text class="tk" x="29.50" y="388.27" text-anchor="end">1</text>
<line x1="32.5" y1="263.20" x2="34.7" y2="263.20" stroke="#6e6e6e" stroke-width="1"/>
<line x1="254.5" y1="263.20" x2="252.3" y2="263.20" stroke="#6e6e6e" stroke-width="1"/>
<text class="tk" x="29.50" y="266.40" text-anchor="end">2</text>
<text class="sf" x="143.50" y="258.60" text-anchor="middle" font-size="12.4"><tspan letter-spacing="-0.2">125</tspan><tspan dx="3.5">kHz</tspan></text>
<text class="sl" x="120.10" y="470.50" font-size="13">&#934;</text>
<text class="sl" x="129.30" y="472.20" font-size="8.2" font-style="italic">D</text>
<text class="sl" x="140.70" y="470.50" font-size="13.5">[</text>
<text class="sl" x="145.00" y="470.50" font-size="11.8" letter-spacing="0.5">mm</text>
<text class="sl" x="163.10" y="470.50" font-size="13.5">]</text>
<g transform="translate(17.40,389.20) rotate(-90)">
<text class="sl" x="-0.5" y="0" font-size="13" font-style="italic">I</text>
<text class="sl" x="6.8" y="2.1" font-size="8.2" font-style="italic">amp</text>
<text class="sl" x="23.5" y="2.6" font-size="15.5">/</text>
<text class="sl" x="29.3" y="0" font-size="13" font-style="italic">I</text>
<text class="sl" x="35.5" y="-3.0" font-size="8.2" font-style="italic">ref</text>
<text class="sl" x="34.0" y="2.1" font-size="8.2" font-style="italic">amp</text>
<text class="sl" x="54.8" y="0.6" font-size="14">[</text>
<text class="sl" x="59.3" y="1.2" font-size="14">&#8722;</text>
<text class="sl" x="67.1" y="0.6" font-size="14">]</text>
</g>
<rect x="40.50" y="270.95" width="101.3" height="70.3" fill="#fff" stroke="#6e6e6e" stroke-width="1"/>
<text class="lg" x="76.10" y="279.95">fit honeycomb</text>
<text class="lg" x="76.10" y="291.23">honeycomb</text>
<text class="lg" x="76.10" y="302.51">fit experimental</text>
<text class="lg" x="76.10" y="313.79">experimental</text>
<text class="lg" x="76.10" y="325.07">fit homogenized</text>
<text class="lg" x="76.10" y="336.35">homogenized</text>
<line x1="43.20" y1="277.95" x2="72.90" y2="277.95" stroke="#0072BD" stroke-width="1.5" stroke-dasharray="6 5.8"/>
<rect x="55.50" y="286.13" width="6.2" height="6.2" fill="none" stroke="#0072BD" stroke-width="0.7"/>
<line x1="43.20" y1="300.51" x2="72.90" y2="300.51" stroke="#D95319" stroke-width="1.5"/>
<circle cx="58.60" cy="311.79" r="4.0" fill="none" stroke="#D95319" stroke-width="0.7"/>
<line x1="43.20" y1="323.07" x2="72.90" y2="323.07" stroke="#EDB120" stroke-width="1.5" stroke-dasharray="5.4 2.1 2.0 2.3"/>
<path d="M58.70 329.15L62.50 334.35L58.70 339.55L54.90 334.35Z" fill="none" stroke="#EDB120" stroke-width="0.7"/>
<defs><clipPath id="c150"><rect x="313.5" y="263.2" width="222.0" height="182.8"/></clipPath></defs>
<polyline clip-path="url(#c150)" points="313.50,420.27 315.21,420.22 316.92,420.16 318.62,420.10 320.33,420.04 322.04,419.98 323.75,419.91 325.45,419.85 327.16,419.78 328.87,419.71 330.58,419.64 332.28,419.57 333.99,419.49 335.70,419.42 337.41,419.34 339.12,419.26 340.82,419.19 342.53,419.10 344.24,419.02 345.95,418.94 347.65,418.85 349.36,418.77 351.07,418.68 352.78,418.59 354.48,418.50 356.19,418.41 357.90,418.32 359.61,418.22 361.32,418.13 363.02,418.03 364.73,417.94 366.44,417.84 368.15,417.74 369.85,417.64 371.56,417.54 373.27,417.44 374.98,417.34 376.68,417.24 378.39,417.13 380.10,417.03 381.81,416.92 383.52,416.82 385.22,416.71 386.93,416.60 388.64,416.49 390.35,416.39 392.05,416.28 393.76,416.17 395.47,416.06 397.18,415.94 398.88,415.83 400.59,415.72 402.30,415.61 404.01,415.50 405.72,415.38 407.42,415.27 409.13,415.16 410.84,415.04 412.55,414.93 414.25,414.81 415.96,414.70 417.67,414.58 419.38,414.47 421.08,414.35 422.79,414.24 424.50,414.12 426.21,414.00 427.92,413.89 429.62,413.77 431.33,413.66 433.04,413.54 434.75,413.43 436.45,413.31 438.16,413.19 439.87,413.08 441.58,412.96 443.28,412.85 444.99,412.74 446.70,412.62 448.41,412.51 450.12,412.39 451.82,412.28 453.53,412.17 455.24,412.05 456.95,411.94 458.65,411.83 460.36,411.72 462.07,411.61 463.78,411.50 465.48,411.39 467.19,411.28 468.90,411.17 470.61,411.06 472.32,410.96 474.02,410.85 475.73,410.74 477.44,410.64 479.15,410.53 480.85,410.43 482.56,410.33 484.27,410.23 485.98,410.13 487.68,410.03 489.39,409.93 491.10,409.83 492.81,409.73 494.52,409.64 496.22,409.54 497.93,409.45 499.64,409.35 501.35,409.26 503.05,409.17 504.76,409.08 506.47,408.99 508.18,408.91 509.88,408.82 511.59,408.74 513.30,408.65 515.01,408.57 516.72,408.49 518.42,408.41 520.13,408.34 521.84,408.26 523.55,408.18 525.25,408.11 526.96,408.04 528.67,407.97 530.38,407.90 532.08,407.83 533.79,407.77 535.50,407.71" fill="none" stroke="#0072BD" stroke-width="1.5" stroke-dasharray="5.9 5.7"/>
<polyline clip-path="url(#c150)" points="313.50,419.97 315.21,419.92 316.92,419.88 318.62,419.84 320.33,419.81 322.04,419.77 323.75,419.73 325.45,419.70 327.16,419.66 328.87,419.63 330.58,419.60 332.28,419.57 333.99,419.54 335.70,419.51 337.41,419.48 339.12,419.45 340.82,419.42 342.53,419.40 344.24,419.37 345.95,419.35 347.65,419.32 349.36,419.30 351.07,419.27 352.78,419.25 354.48,419.23 356.19,419.20 357.90,419.18 359.61,419.16 361.32,419.14 363.02,419.12 364.73,419.10 366.44,419.08 368.15,419.06 369.85,419.04 371.56,419.01 373.27,418.99 374.98,418.97 376.68,418.95 378.39,418.93 380.10,418.91 381.81,418.89 383.52,418.87 385.22,418.85 386.93,418.83 388.64,418.81 390.35,418.79 392.05,418.77 393.76,418.74 395.47,418.72 397.18,418.70 398.88,418.68 400.59,418.65 402.30,418.63 404.01,418.60 405.72,418.58 407.42,418.55 409.13,418.52 410.84,418.50 412.55,418.47 414.25,418.44 415.96,418.41 417.67,418.38 419.38,418.35 421.08,418.32 422.79,418.28 424.50,418.25 426.21,418.21 427.92,418.18 429.62,418.14 431.33,418.10 433.04,418.06 434.75,418.02 436.45,417.98 438.16,417.94 439.87,417.89 441.58,417.85 443.28,417.80 444.99,417.75 446.70,417.70 448.41,417.65 450.12,417.60 451.82,417.55 453.53,417.49 455.24,417.43 456.95,417.37 458.65,417.31 460.36,417.25 462.07,417.19 463.78,417.12 465.48,417.06 467.19,416.99 468.90,416.92 470.61,416.84 472.32,416.77 474.02,416.69 475.73,416.61 477.44,416.53 479.15,416.45 480.85,416.37 482.56,416.28 484.27,416.19 485.98,416.10 487.68,416.01 489.39,415.91 491.10,415.81 492.81,415.71 494.52,415.61 496.22,415.50 497.93,415.40 499.64,415.29 501.35,415.18 503.05,415.06 504.76,414.94 506.47,414.82 508.18,414.70 509.88,414.58 511.59,414.45 513.30,414.32 515.01,414.18 516.72,414.05 518.42,413.91 520.13,413.77 521.84,413.62 523.55,413.47 525.25,413.32 526.96,413.17 528.67,413.01 530.38,412.85 532.08,412.69 533.79,412.52 535.50,412.36" fill="none" stroke="#D95319" stroke-width="1.5"/>
<polyline clip-path="url(#c150)" points="313.50,419.31 315.21,418.88 316.92,418.46 318.62,418.03 320.33,417.61 322.04,417.19 323.75,416.76 325.45,416.34 327.16,415.92 328.87,415.50 330.58,415.08 332.28,414.66 333.99,414.24 335.70,413.81 337.41,413.39 339.12,412.96 340.82,412.53 342.53,412.10 344.24,411.67 345.95,411.24 347.65,410.80 349.36,410.36 351.07,409.92 352.78,409.47 354.48,409.02 356.19,408.57 357.90,408.11 359.61,407.65 361.32,407.19 363.02,406.72 364.73,406.24 366.44,405.76 368.15,405.27 369.85,404.78 371.56,404.29 373.27,403.78 374.98,403.27 376.68,402.76 378.39,402.23 380.10,401.70 381.81,401.17 383.52,400.62 385.22,400.07 386.93,399.51 388.64,398.94 390.35,398.37 392.05,397.78 393.76,397.19 395.47,396.59 397.18,395.97 398.88,395.35 400.59,394.72 402.30,394.08 404.01,393.43 405.72,392.77 407.42,392.09 409.13,391.41 410.84,390.71 412.55,390.01 414.25,389.29 415.96,388.56 417.67,387.82 419.38,387.07 421.08,386.30 422.79,385.52 424.50,384.73 426.21,383.92 427.92,383.11 429.62,382.27 431.33,381.43 433.04,380.57 434.75,379.69 436.45,378.80 438.16,377.90 439.87,376.98 441.58,376.05 443.28,375.10 444.99,374.13 446.70,373.15 448.41,372.15 450.12,371.14 451.82,370.11 453.53,369.06 455.24,368.00 456.95,366.91 458.65,365.81 460.36,364.70 462.07,363.56 463.78,362.41 465.48,361.24 467.19,360.04 468.90,358.84 470.61,357.61 472.32,356.36 474.02,355.09 475.73,353.80 477.44,352.49 479.15,351.16 480.85,349.82 482.56,348.45 484.27,347.06 485.98,345.64 487.68,344.21 489.39,342.75 491.10,341.28 492.81,339.78 494.52,338.26 496.22,336.71 497.93,335.14 499.64,333.55 501.35,331.94 503.05,330.30 504.76,328.64 506.47,326.96 508.18,325.25 509.88,323.51 511.59,321.75 513.30,319.97 515.01,318.16 516.72,316.33 518.42,314.47 520.13,312.58 521.84,310.67 523.55,308.73 525.25,306.77 526.96,304.77 528.67,302.76 530.38,300.71 532.08,298.64 533.79,296.54 535.50,294.41" fill="none" stroke="#EDB120" stroke-width="1.5" stroke-dasharray="5.6 1.8 2.2 1.6" stroke-dashoffset="-1.2"/>
<rect x="310.40" y="416.79" width="6.2" height="6.2" fill="none" stroke="#0072BD" stroke-width="0.7"/>
<rect x="327.48" y="417.05" width="6.2" height="6.2" fill="none" stroke="#0072BD" stroke-width="0.7"/>
<rect x="361.63" y="415.06" width="6.2" height="6.2" fill="none" stroke="#0072BD" stroke-width="0.7"/>
<rect x="395.78" y="412.24" width="6.2" height="6.2" fill="none" stroke="#0072BD" stroke-width="0.7"/>
<rect x="429.94" y="410.47" width="6.2" height="6.2" fill="none" stroke="#0072BD" stroke-width="0.7"/>
<rect x="464.09" y="408.17" width="6.2" height="6.2" fill="none" stroke="#0072BD" stroke-width="0.7"/>
<rect x="498.25" y="406.44" width="6.2" height="6.2" fill="none" stroke="#0072BD" stroke-width="0.7"/>
<rect x="532.40" y="404.46" width="6.2" height="6.2" fill="none" stroke="#0072BD" stroke-width="0.7"/>
<circle cx="313.50" cy="419.89" r="3.9" fill="none" stroke="#D95319" stroke-width="0.7"/>
<circle cx="330.58" cy="420.15" r="3.9" fill="none" stroke="#D95319" stroke-width="0.7"/>
<circle cx="364.73" cy="418.16" r="3.9" fill="none" stroke="#D95319" stroke-width="0.7"/>
<circle cx="398.88" cy="418.68" r="3.9" fill="none" stroke="#D95319" stroke-width="0.7"/>
<circle cx="433.04" cy="418.58" r="3.9" fill="none" stroke="#D95319" stroke-width="0.7"/>
<circle cx="467.19" cy="417.95" r="3.9" fill="none" stroke="#D95319" stroke-width="0.7"/>
<circle cx="501.35" cy="413.57" r="3.9" fill="none" stroke="#D95319" stroke-width="0.7"/>
<circle cx="535.50" cy="412.94" r="3.9" fill="none" stroke="#D95319" stroke-width="0.7"/>
<path d="M313.50 414.59L317.40 419.89L313.50 425.19L309.60 419.89Z" fill="none" stroke="#EDB120" stroke-width="0.7"/>
<path d="M330.58 408.68L334.48 413.98L330.58 419.28L326.68 413.98Z" fill="none" stroke="#EDB120" stroke-width="0.7"/>
<path d="M364.73 401.58L368.63 406.88L364.73 412.18L360.83 406.88Z" fill="none" stroke="#EDB120" stroke-width="0.7"/>
<path d="M398.88 390.14L402.78 395.44L398.88 400.74L394.98 395.44Z" fill="none" stroke="#EDB120" stroke-width="0.7"/>
<path d="M433.04 374.94L436.94 380.24L433.04 385.54L429.14 380.24Z" fill="none" stroke="#EDB120" stroke-width="0.7"/>
<path d="M467.19 354.89L471.09 360.19L467.19 365.49L463.29 360.19Z" fill="none" stroke="#EDB120" stroke-width="0.7"/>
<path d="M501.35 326.58L505.25 331.88L501.35 337.18L497.45 331.88Z" fill="none" stroke="#EDB120" stroke-width="0.7"/>
<path d="M535.50 289.13L539.40 294.43L535.50 299.73L531.60 294.43Z" fill="none" stroke="#EDB120" stroke-width="0.7"/>
<rect x="313.5" y="263.2" width="222.00" height="182.80" fill="none" stroke="#6e6e6e" stroke-width="1"/>
<line x1="313.50" y1="446.0" x2="313.50" y2="443.8" stroke="#6e6e6e" stroke-width="1"/>
<line x1="313.50" y1="263.2" x2="313.50" y2="265.4" stroke="#6e6e6e" stroke-width="1"/>
<text class="tk" x="313.50" y="458.00" text-anchor="middle">0</text>
<line x1="330.58" y1="446.0" x2="330.58" y2="443.8" stroke="#6e6e6e" stroke-width="1"/>
<line x1="330.58" y1="263.2" x2="330.58" y2="265.4" stroke="#6e6e6e" stroke-width="1"/>
<text class="tk" x="330.58" y="458.00" text-anchor="middle">10</text>
<line x1="364.73" y1="446.0" x2="364.73" y2="443.8" stroke="#6e6e6e" stroke-width="1"/>
<line x1="364.73" y1="263.2" x2="364.73" y2="265.4" stroke="#6e6e6e" stroke-width="1"/>
<text class="tk" x="364.73" y="458.00" text-anchor="middle">30</text>
<line x1="398.88" y1="446.0" x2="398.88" y2="443.8" stroke="#6e6e6e" stroke-width="1"/>
<line x1="398.88" y1="263.2" x2="398.88" y2="265.4" stroke="#6e6e6e" stroke-width="1"/>
<text class="tk" x="398.88" y="458.00" text-anchor="middle">50</text>
<line x1="433.04" y1="446.0" x2="433.04" y2="443.8" stroke="#6e6e6e" stroke-width="1"/>
<line x1="433.04" y1="263.2" x2="433.04" y2="265.4" stroke="#6e6e6e" stroke-width="1"/>
<text class="tk" x="433.04" y="458.00" text-anchor="middle">70</text>
<line x1="467.19" y1="446.0" x2="467.19" y2="443.8" stroke="#6e6e6e" stroke-width="1"/>
<line x1="467.19" y1="263.2" x2="467.19" y2="265.4" stroke="#6e6e6e" stroke-width="1"/>
<text class="tk" x="467.19" y="458.00" text-anchor="middle">90</text>
<line x1="501.35" y1="446.0" x2="501.35" y2="443.8" stroke="#6e6e6e" stroke-width="1"/>
<line x1="501.35" y1="263.2" x2="501.35" y2="265.4" stroke="#6e6e6e" stroke-width="1"/>
<text class="tk" x="501.35" y="458.00" text-anchor="middle">110</text>
<line x1="535.50" y1="446.0" x2="535.50" y2="443.8" stroke="#6e6e6e" stroke-width="1"/>
<line x1="535.50" y1="263.2" x2="535.50" y2="265.4" stroke="#6e6e6e" stroke-width="1"/>
<text class="tk" x="535.50" y="458.00" text-anchor="middle">130</text>
<line x1="313.5" y1="419.89" x2="315.7" y2="419.89" stroke="#6e6e6e" stroke-width="1"/>
<line x1="535.5" y1="419.89" x2="533.3" y2="419.89" stroke="#6e6e6e" stroke-width="1"/>
<text class="tk" x="310.50" y="423.09" text-anchor="end">1</text>
<line x1="313.5" y1="367.66" x2="315.7" y2="367.66" stroke="#6e6e6e" stroke-width="1"/>
<line x1="535.5" y1="367.66" x2="533.3" y2="367.66" stroke="#6e6e6e" stroke-width="1"/>
<text class="tk" x="310.50" y="370.86" text-anchor="end">2</text>
<line x1="313.5" y1="263.20" x2="315.7" y2="263.20" stroke="#6e6e6e" stroke-width="1"/>
<line x1="535.5" y1="263.20" x2="533.3" y2="263.20" stroke="#6e6e6e" stroke-width="1"/>
<text class="tk" x="310.50" y="266.40" text-anchor="end">4</text>
<text class="sf" x="424.50" y="258.60" text-anchor="middle" font-size="12.4"><tspan letter-spacing="-0.2">150</tspan><tspan dx="3.5">kHz</tspan></text>
<text class="sl" x="401.10" y="470.50" font-size="13">&#934;</text>
<text class="sl" x="410.30" y="472.20" font-size="8.2" font-style="italic">D</text>
<text class="sl" x="421.70" y="470.50" font-size="13.5">[</text>
<text class="sl" x="426.00" y="470.50" font-size="11.8" letter-spacing="0.5">mm</text>
<text class="sl" x="444.10" y="470.50" font-size="13.5">]</text>
<g transform="translate(298.40,389.20) rotate(-90)">
<text class="sl" x="-0.5" y="0" font-size="13" font-style="italic">I</text>
<text class="sl" x="6.8" y="2.1" font-size="8.2" font-style="italic">amp</text>
<text class="sl" x="23.5" y="2.6" font-size="15.5">/</text>
<text class="sl" x="29.3" y="0" font-size="13" font-style="italic">I</text>
<text class="sl" x="35.5" y="-3.0" font-size="8.2" font-style="italic">ref</text>
<text class="sl" x="34.0" y="2.1" font-size="8.2" font-style="italic">amp</text>
<text class="sl" x="54.8" y="0.6" font-size="14">[</text>
<text class="sl" x="59.3" y="1.2" font-size="14">&#8722;</text>
<text class="sl" x="67.1" y="0.6" font-size="14">]</text>
</g>
<rect x="321.50" y="270.95" width="101.3" height="70.3" fill="#fff" stroke="#6e6e6e" stroke-width="1"/>
<text class="lg" x="357.10" y="279.95">fit honeycomb</text>
<text class="lg" x="357.10" y="291.23">honeycomb</text>
<text class="lg" x="357.10" y="302.51">fit experimental</text>
<text class="lg" x="357.10" y="313.79">experimental</text>
<text class="lg" x="357.10" y="325.07">fit homogenized</text>
<text class="lg" x="357.10" y="336.35">homogenized</text>
<line x1="324.20" y1="277.95" x2="353.90" y2="277.95" stroke="#0072BD" stroke-width="1.5" stroke-dasharray="6 5.8"/>
<rect x="336.50" y="286.13" width="6.2" height="6.2" fill="none" stroke="#0072BD" stroke-width="0.7"/>
<line x1="324.20" y1="300.51" x2="353.90" y2="300.51" stroke="#D95319" stroke-width="1.5"/>
<circle cx="339.60" cy="311.79" r="4.0" fill="none" stroke="#D95319" stroke-width="0.7"/>
<line x1="324.20" y1="323.07" x2="353.90" y2="323.07" stroke="#EDB120" stroke-width="1.5" stroke-dasharray="5.4 2.1 2.0 2.3"/>
<path d="M339.70 329.15L343.50 334.35L339.70 339.55L335.90 334.35Z" fill="none" stroke="#EDB120" stroke-width="0.7"/>
</svg></body></html>
